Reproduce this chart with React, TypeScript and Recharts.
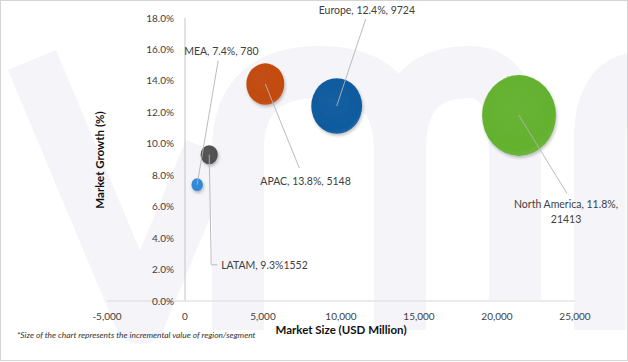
import { ScatterChart, Scatter, XAxis, YAxis, ZAxis, ReferenceLine, ReferenceDot, LabelList, Cell } from 'recharts';

// bubble data
const regions = ['MEA', 'LATAM', 'APAC', 'Europe', 'North America'];
const marketSize = [780, 1552, 5148, 9724, 21413];
const marketGrowth = [7.4, 9.3, 13.8, 12.4, 11.8];
// incremental value (bubble size)
const incrementalValue = [290, 650, 3120, 5620, 11860];
const labelLines = [
  ['MEA, 7.4%, 780'],
  ['LATAM, 9.3%1552'],
  ['APAC, 13.8%, 5148'],
  ['Europe, 12.4%, 9724'],
  ['North America, 11.8%,', '21413'],
];
const xTicks = [-5000, 0, 5000, 10000, 15000, 20000, 25000];
const yTicks = [0, 2, 4, 6, 8, 10, 12, 14, 16, 18];

const colors = ['#2f88d8', '#505050', '#c2490f', '#0c5a9e', '#63b12f'];

// leader line / label placement, pixel offsets from bubble centre
const labelStyle: Record<string, { path: [number, number][]; tx: number; ty: number; anchor: 'start' | 'middle' }> = {
  MEA: { path: [[0, 0], [21, -124]], tx: -13, ty: -133, anchor: 'start' },
  LATAM: { path: [[0, 0], [2, 110], [8, 110]], tx: 12, ty: 111, anchor: 'start' },
  APAC: { path: [[0, 0], [34, 84]], tx: -5, ty: 97, anchor: 'start' },
  Europe: { path: [[0, 0], [29, -87]], tx: -18, ty: -96, anchor: 'start' },
  'North America': { path: [[0, 0], [48, 78]], tx: 47, ty: 89, anchor: 'middle' },
};

const data = regions.map((name, i) => ({
  name,
  x: marketSize[i],
  y: marketGrowth[i],
  z: incrementalValue[i],
  lines: labelLines[i],
}));

const FONT = 'Lato, "Open Sans", sans-serif';
const TEXT = '#404040';

const Bubble = (props: any) => {
  const { cx, cy, width, index } = props;
  const r = width / 2;
  return (
    <ellipse cx={cx} cy={cy} rx={r * 0.96} ry={r * 1.05} fill={`url(#bubble-${index})`} filter="url(#bubble-shadow)" />
  );
};

const BubbleLabel = (props: any) => {
  const { x, y, width, height, value } = props;
  const row = data.find((d) => d.name === value);
  if (!row) return null;
  const s = labelStyle[value];
  const cx = x + width / 2;
  const cy = y + height / 2;
  const pts = s.path.map(([dx, dy]) => `${cx + dx},${cy + dy}`).join(' ');
  return (
    <g>
      <polyline points={pts} fill="none" stroke="#b4b4b4" strokeWidth={0.9} />
      <text x={cx + s.tx} y={cy + s.ty} textAnchor={s.anchor} fontSize={10.5} fontFamily={FONT} fill={TEXT}>
        {row.lines.map((ln, k) => (
          <tspan key={k} x={cx + s.tx} dy={k === 0 ? '0.35em' : 15}>
            {ln}
          </tspan>
        ))}
      </text>
    </g>
  );
};

const formatX = (v: number) => v.toLocaleString('en-US');

// faint "vmr" watermark behind the chart
const Watermark = () => (
  <svg width={628} height={362} style={{ position: 'absolute', left: 0, top: 0 }}>
    <g fill="none" stroke="#f4f4f9" strokeWidth={52} strokeLinejoin="round" strokeLinecap="butt">
      <path d="M 32 60 L 140 318 L 210 150" />
      <path d="M 238 330 L 238 150 Q 238 72 320 72 Q 400 72 400 150 L 400 330" />
      <path d="M 400 150 Q 400 72 470 72 Q 515 72 515 150 L 515 300" />
      <path d="M 600 330 L 600 140 Q 600 80 640 78" />
    </g>
  </svg>
);

export default function App() {
  return (
    <div style={{ position: 'absolute', left: 0, top: 0, width: 628, height: 362, background: '#fff', fontFamily: FONT }}>
      <Watermark />
      <div style={{ position: 'absolute', left: 0, top: 0, width: 628, height: 361, border: '1px solid #d4d4d4', boxSizing: 'border-box' }} />
      <div style={{ position: 'absolute', left: 0, top: 0 }}>
        <ScatterChart width={628} height={362} margin={{ top: 18, right: 53, bottom: 27, left: 107 }}>
          <defs>
            {colors.map((c, i) => (
              <radialGradient key={i} id={`bubble-${i}`} cx="45%" cy="40%" r="65%">
                <stop offset="0%" stopColor={c} stopOpacity={0.95} />
                <stop offset="80%" stopColor={c} />
                <stop offset="100%" stopColor={c} stopOpacity={0.85} />
              </radialGradient>
            ))}
            <filter id="bubble-shadow" x="-30%" y="-30%" width="160%" height="160%">
              <feDropShadow dx="1" dy="2" stdDeviation="1.5" floodColor="#000" floodOpacity="0.25" />
            </filter>
          </defs>
          <XAxis
            type="number"
            dataKey="x"
            domain={[-5000, 25000]}
            ticks={xTicks}
            tickFormatter={formatX}
            tickLine={false}
            tickSize={0}
            tickMargin={12}
            height={34}
            axisLine={{ stroke: '#e4e4e4', strokeWidth: 1.5 }}
            tick={{ fill: TEXT, fontSize: 10, fontFamily: FONT }}
            label={{ value: 'Market Size (USD Million)', position: 'insideBottom', offset: 1, fill: '#111', fontSize: 11.5, fontWeight: 700, fontFamily: FONT }}
          />
          <YAxis type="number" dataKey="y" domain={[0, 18]} ticks={yTicks} width={0} tick={false} axisLine={false} tickLine={false} />
          <ZAxis type="number" dataKey="z" domain={[0, 11860]} range={[0, 4657]} />
          <ReferenceLine x={0} stroke="#c4c4c4" strokeWidth={1} />
          {yTicks.map((t) => (
            <ReferenceDot
              key={t}
              x={0}
              y={t}
              r={0}
              fill="none"
              stroke="none"
              label={{ value: `${t.toFixed(1)}%`, position: 'left', offset: 11, fill: TEXT, fontSize: 10, fontFamily: FONT }}
            />
          ))}
          <Scatter data={data} shape={<Bubble />} isAnimationActive={false}>
            {data.map((d, i) => (
              <Cell key={d.name} fill={colors[i]} />
            ))}
            <LabelList dataKey="name" content={<BubbleLabel />} />
          </Scatter>
        </ScatterChart>
      </div>
      <svg width={30} height={200} style={{ position: 'absolute', left: 85, top: 60 }}>
        <text
          x={14}
          y={100}
          transform="rotate(-90 14 100)"
          textAnchor="middle"
          dominantBaseline="central"
          fontSize={11.5}
          fontWeight={700}
          fontFamily={FONT}
          fill="#111"
        >
          Market Growth (%)
        </text>
      </svg>
      <div
        style={{
          position: 'absolute',
          left: 17,
          top: 330,
          fontSize: 8.4,
          fontStyle: 'italic',
          color: '#333',
          fontFamily: FONT,
          whiteSpace: 'nowrap',
        }}
      >
        *Size of the chart represents the incremental value of region/segment
      </div>
    </div>
  );
}
